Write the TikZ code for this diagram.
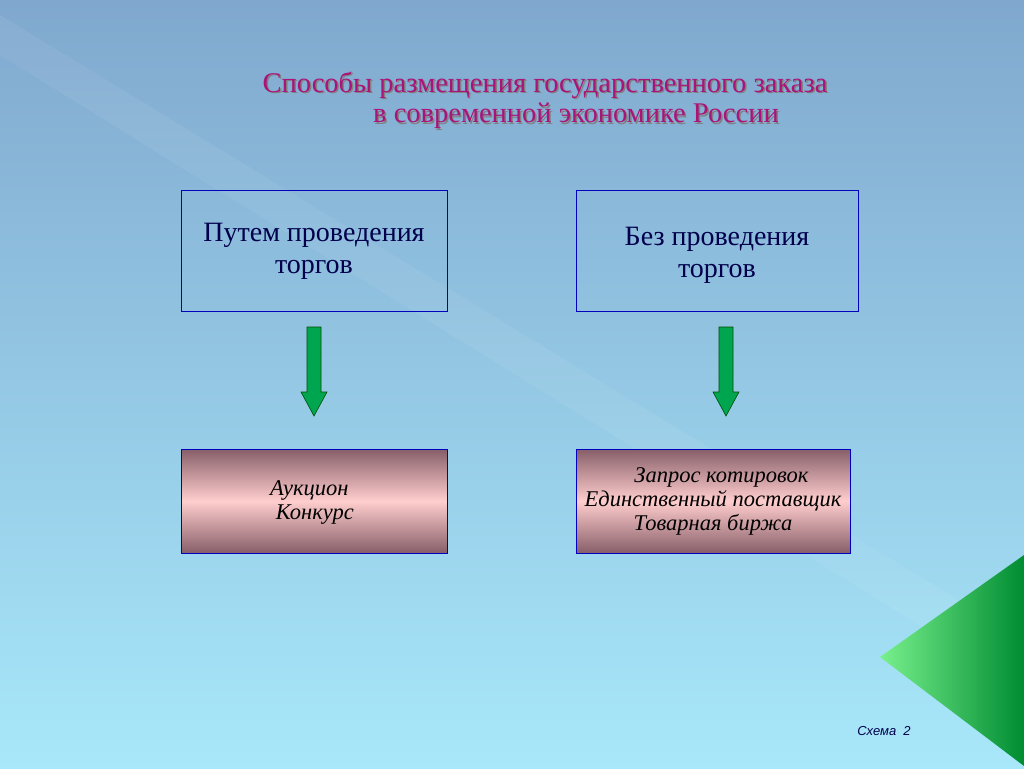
\documentclass[tikz,border=0pt]{standalone}
\usepackage{fontspec}
\setmainfont{Liberation Serif}
\newfontfamily\arialf{Liberation Sans}
\begin{document}
\begin{tikzpicture}[x=1pt,y=-1pt,
  topbox/.style={draw=blue!75!black,line width=0.8pt,minimum width=#1,minimum height=121pt,inner sep=0pt},
  botbox/.style={draw=blue!75!black,line width=0.8pt,minimum height=104pt,inner sep=0pt},
  toptxt/.style={text=blue!30!black,font=\fontsize{28}{32}\selectfont,align=center},
  bottxt/.style={font=\itshape\fontsize{22.5}{24}\selectfont,align=center},
  ttl/.style={font=\fontsize{28.5}{32}\selectfont},
  garrow/.style={fill={rgb,255:red,0;green,165;blue,80},draw=black!70!green,line width=0.6pt}]
\useasboundingbox (0,0) rectangle (1024,768);
\shade[top color={rgb,255:red,128;green,168;blue,206},bottom color={rgb,255:red,168;green,232;blue,250}] (0,0) rectangle (1024,768);
\fill[white,opacity=0.06] (0,15) -- (1024,640) -- (1024,690) -- (0,55) -- cycle;
\shade[left color={rgb,255:red,120;green,240;blue,140},right color={rgb,255:red,0;green,140;blue,50}] (880,657) -- (1024,555) -- (1024,766) -- cycle;
% title
\node[text=black!50,ttl] at (546.5,86.5) {Способы размещения государственного заказа};
\node[text={rgb,255:red,170;green,20;blue,120},ttl] (t1) at (545,85) {Способы размещения государственного заказа};
\node[text=black!50,ttl] at (577.5,117.5) {в современной экономике России};
\node[text={rgb,255:red,170;green,20;blue,120},ttl] (t2) at (576,116) {в современной экономике России};
% top boxes
\node[topbox=266pt] (a) at (314,250.5) {};
\node[toptxt,anchor=north] (at) at (314,220) {Путем проведения\\торгов};
\node[topbox=282pt] (b) at (717,250.5) {};
\node[toptxt,anchor=north] (bt) at (717,224) {Без проведения\\торгов};
% bottom boxes
\shade[top color={rgb,255:red,135;green,95;blue,105},bottom color={rgb,255:red,255;green,205;blue,205}] (181,449) rectangle (447,501);
\shade[bottom color={rgb,255:red,135;green,95;blue,105},top color={rgb,255:red,255;green,205;blue,205}] (181,501) rectangle (447,553);
\shade[top color={rgb,255:red,135;green,95;blue,105},bottom color={rgb,255:red,255;green,205;blue,205}] (576,449) rectangle (850,501);
\shade[bottom color={rgb,255:red,135;green,95;blue,105},top color={rgb,255:red,255;green,205;blue,205}] (576,501) rectangle (850,553);
\node[botbox,minimum width=266pt] (c) at (314,501) {};
\node[botbox,minimum width=274pt] (d) at (713,501) {};
\node[bottxt,align=left] (ct) at (312,502) {Аукцион\\\ Конкурс};
\node[bottxt] (dt) at (713,501) {\ \ \ Запрос котировок\\Единственный поставщик\\Товарная биржа};
% arrows
\draw[garrow] (307,327) -- (321,327) -- (321,392) -- (327,392) -- (314,416) -- (301,392) -- (307,392) -- cycle;
\draw[garrow] (719,327) -- (733,327) -- (733,392) -- (739,392) -- (726,416) -- (713,392) -- (719,392) -- cycle;
\node[text=blue!30!black,font=\arialf\itshape\fontsize{13}{15}\selectfont] (s) at (884,731) {Схема\ \ 2};
\end{tikzpicture}
\end{document}
